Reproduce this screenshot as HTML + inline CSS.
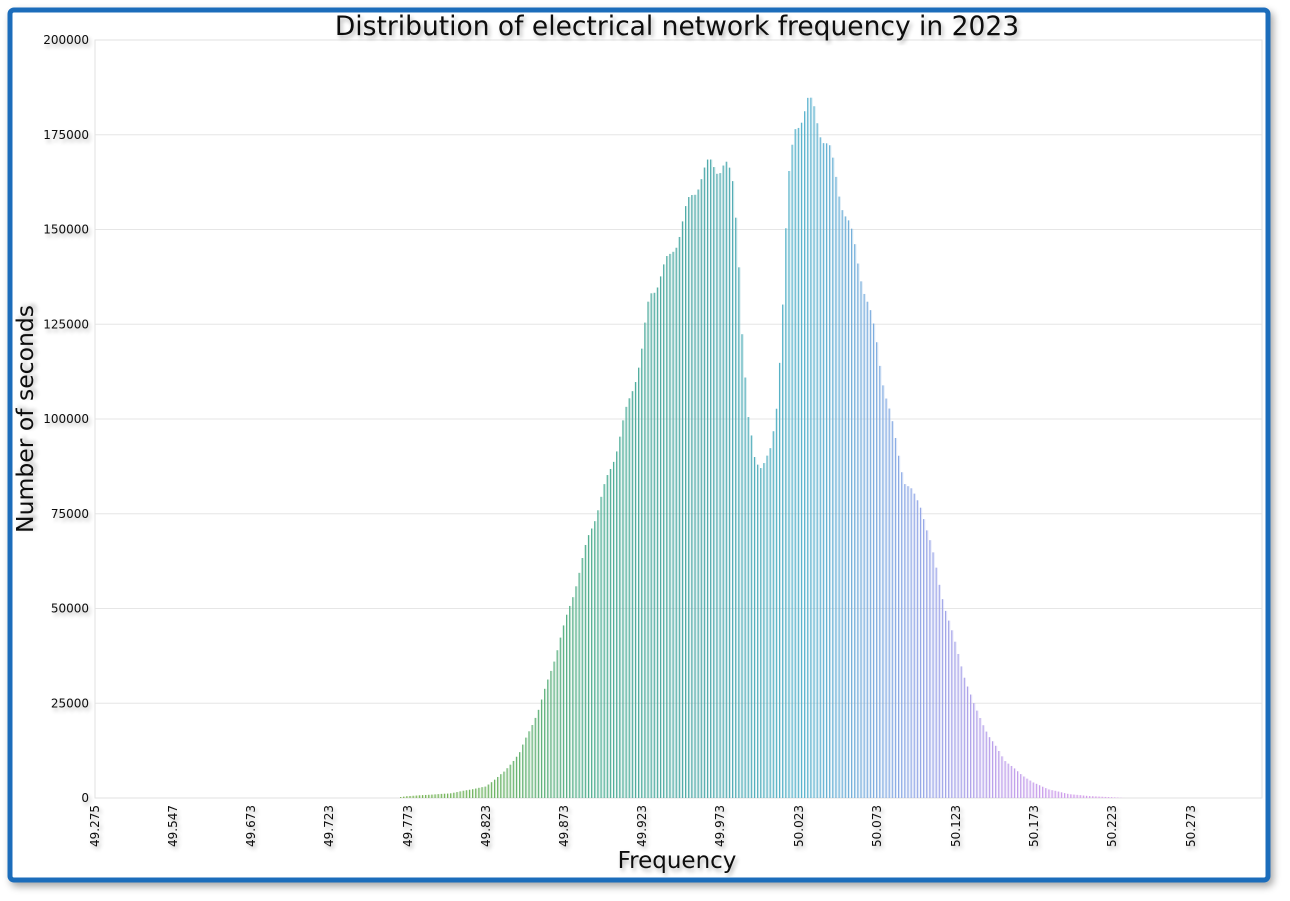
<!DOCTYPE html>
<html><head><meta charset="utf-8"><style>
html,body{margin:0;padding:0;background:#fff;width:1290px;height:901px;overflow:hidden}
svg{display:block}
text{font-family:"DejaVu Sans","Liberation Sans",sans-serif}
</style></head><body>
<svg id="s" width="1290" height="901" viewBox="0 0 1290 901" xmlns="http://www.w3.org/2000/svg">
<defs>
<filter id="sh" x="-5%" y="-5%" width="110%" height="110%"><feGaussianBlur in="SourceAlpha" stdDeviation="4"/><feOffset dx="3" dy="4"/><feComponentTransfer><feFuncA type="linear" slope="0.35"/></feComponentTransfer><feMerge><feMergeNode/><feMergeNode in="SourceGraphic"/></feMerge></filter>
<filter id="ts"><feGaussianBlur in="SourceAlpha" stdDeviation="2"/><feOffset dx="2" dy="3"/><feComponentTransfer><feFuncA type="linear" slope="0.3"/></feComponentTransfer><feMerge><feMergeNode/><feMergeNode in="SourceGraphic"/></feMerge></filter>
</defs>
<rect x="10" y="10" width="1258" height="870" rx="4" fill="#fff" stroke="#1a6dbb" stroke-width="5" filter="url(#sh)"/>
<g id="grid"></g>
<rect x="95" y="40" width="1167" height="758" fill="none" stroke="#e2e2e2" stroke-width="1"/>
<g id="bars"></g>
<line x1="95" y1="799" x2="1262" y2="799" stroke="#999" stroke-width="2" filter="url(#ts)"/>
<g id="lab" font-size="12" fill="#111" filter="url(#ts)"></g>
<text x="677" y="35" font-size="26.5" text-anchor="middle" fill="#111" filter="url(#ts)">Distribution of electrical network frequency in 2023</text>
<text x="677" y="868" font-size="23" text-anchor="middle" fill="#111" filter="url(#ts)">Frequency</text>
<text transform="translate(33,419) rotate(-90)" font-size="23.5" text-anchor="middle" fill="#111" filter="url(#ts)">Number of seconds</text>
</svg>
<script>
var NS="http://www.w3.org/2000/svg";
function el(t,a,p){var e=document.createElementNS(NS,t);for(var k in a)e.setAttribute(k,a[k]);if(p)p.appendChild(e);return e;}
var g=document.getElementById('grid'),lab=document.getElementById('lab'),bars=document.getElementById('bars');
function Y(v){return 798-v/200000*758;}
for(var i=0;i<=8;i++){var v=i*25000,y=Y(v);
 if(i>0&&i<8)el('line',{x1:95,x2:1262,y1:y,y2:y,stroke:'#e6e6e6','stroke-width':1},g);
 var t=el('text',{x:89,y:y+4,'text-anchor':'end'},lab);t.textContent=v;}
var ticks=[[95,"49.275"],[173,"49.547"],[251,"49.673"],[329,"49.723"],[408,"49.773"],[486,"49.823"],[564,"49.873"],[642,"49.923"],[720,"49.973"],[799,"50.023"],[877,"50.073"],[956,"50.123"],[1034,"50.173"],[1112,"50.223"],[1191,"50.273"]];
ticks.forEach(function(k){var t=el('text',{transform:'translate('+(k[0]+4)+',805) rotate(-90)','text-anchor':'end'},lab);t.textContent=k[1];});
var P=[[395,0],[408,500],[450,1200],[486,3000],[505,7000],[520,12000],[540,24000],[555,37000],[564,45000],[580,60000],[590,70000],[600,78000],[610,86000],[630,105000],[642,118000],[650,132000],[660,138000],[670,142000],[680,150000],[690,157000],[700,164000],[712,167000],[725,167000],[733,162000],[738,150000],[742,125000],[748,100000],[755,90000],[762,88000],[770,90000],[776,100000],[782,125000],[788,160000],[795,176000],[800,180000],[808,183000],[815,181000],[822,176000],[830,170000],[840,160000],[850,150000],[860,140000],[870,128000],[877,120000],[885,108000],[895,95000],[905,84000],[915,79000],[922,77000],[930,68000],[940,56000],[956,40000],[965,32000],[975,24000],[990,16000],[1005,10000],[1020,6500],[1034,4000],[1050,2200],[1070,1000],[1090,500],[1112,200],[1125,0]];
function val(x){for(var i=1;i<P.length;i++){if(x<=P[i][0]){var a=P[i-1],b=P[i];return a[1]+(b[1]-a[1])*(x-a[0])/(b[0]-a[0]);}}return 0;}
var C=[[400,[120,180,80]],[490,[110,180,100]],[600,[80,175,150]],[700,[80,170,170]],[800,[90,180,205]],[900,[140,170,230]],[1000,[190,160,235]],[1100,[215,155,235]]];
function col(x){if(x<=C[0][0])return C[0][1];for(var i=1;i<C.length;i++){if(x<=C[i][0]){var a=C[i-1],b=C[i],f=(x-a[0])/(b[0]-a[0]);return a[1].map(function(c,j){return Math.round(c+(b[1][j]-c)*f);});}}return C[C.length-1][1];}
var pitch=78.3/25;
for(var x=400;x<1130;x+=pitch){var v=val(x+1);if(v<=0)continue;
 v*=1+0.015*Math.sin(x*1.7);
 var y=Y(v),c=col(x),h=798-y;
 el('rect',{x:x.toFixed(2),y:y.toFixed(2),width:(pitch-0.9).toFixed(2),height:h.toFixed(2),fill:'rgba('+c+',0.28)'},bars);
 el('rect',{x:x.toFixed(2),y:y.toFixed(2),width:1.1,height:h.toFixed(2),fill:'rgb('+c+')'},bars);}
</script>
</body></html>
